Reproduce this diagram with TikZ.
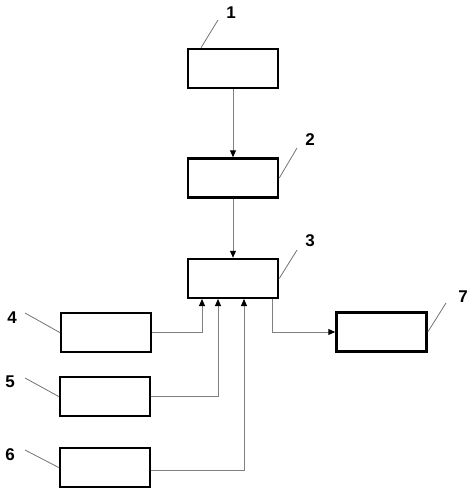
\documentclass[tikz,border=0pt]{standalone}
\usepackage{fontspec}
\setmainfont{Liberation Sans}
\usetikzlibrary{arrows.meta}
\begin{document}
\begin{tikzpicture}[x=1pt,y=-1pt,
  box/.style={draw=black,line width=2.5pt,minimum width=90pt,minimum height=39pt,inner sep=0pt},
  conn/.style={draw=black!50,line width=1pt},
  arr/.style={conn,-{Triangle[length=7pt,width=6pt,color=black]}},
  lead/.style={draw=black!55,line width=0.8pt},
  lab/.style={font=\fontsize{17}{20}\selectfont\bfseries,inner sep=0pt}]
\useasboundingbox (0,0) rectangle (474,495);
\node[box] (b1) at (233,68.5) {};
\node[box] (b2) at (233,178) {};
\node[box] (b3) at (233,278.5) {};
\node[box] (b4) at (106,332.5) {};
\node[box] (b5) at (105,396.5) {};
\node[box] (b6) at (105,467.5) {};
\node[box] (b7) at (381.5,332) {};
\node[lab] (l1) at (231,13) {1};
\node[lab] (l2) at (310,140) {2};
\node[lab] (l3) at (310,241) {3};
\node[lab] (l4) at (12,318) {4};
\node[lab] (l5) at (10,382) {5};
\node[lab] (l6) at (10,455) {6};
\node[lab] (l7) at (463,297) {7};
\coordinate (t1) at (218,20);
\coordinate (t2) at (297,148);
\coordinate (t3) at (297,250);
\coordinate (t4) at (25,313);
\coordinate (t5) at (25,378);
\coordinate (t6) at (25,450);
\coordinate (t7) at (446,303);
\draw[lead] (t1) -- (b1.north west -| 201,0);
\draw[lead] (t2) -- (b2.east);
\draw[lead] (t3) -- (b3.east);
\draw[lead] (t4) -- (b4.west);
\draw[lead] (t5) -- (b5.west);
\draw[lead] (t6) -- (b6.west);
\draw[lead] (t7) -- (b7.east);
\coordinate (in4) at (202,299);
\coordinate (in5) at (218,299);
\coordinate (in6) at (244,299);
\coordinate (out3) at (272,299);
\draw[arr] (b1.south) -- (b2.north);
\draw[arr] (b2.south) -- (b3.north);
\draw[arr] (b4.east) -| (in4);
\draw[arr] (b5.east) -| (in5);
\draw[arr] (b6.east |- 0,470) -| (in6);
\draw[arr] (out3) |- (b7.west);
\end{tikzpicture}
\end{document}
